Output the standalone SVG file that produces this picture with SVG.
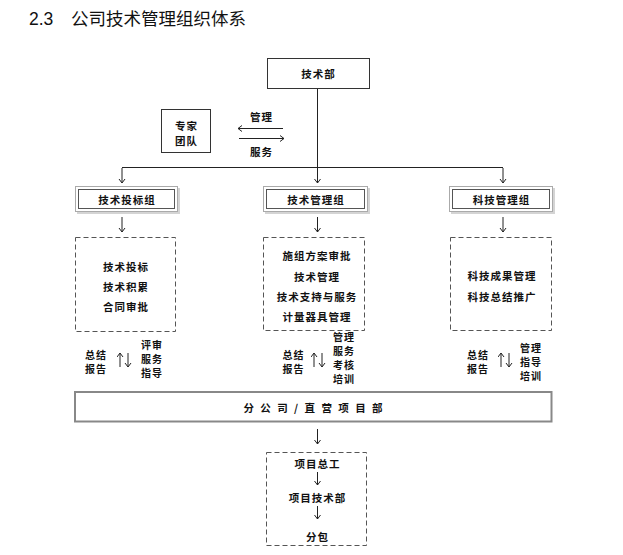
<svg xmlns="http://www.w3.org/2000/svg" width="623" height="555" viewBox="0 0 623 555">
<style>
.t{font-family:"Noto Sans CJK SC","Liberation Sans",sans-serif;font-size:10.5px;font-weight:bold;fill:#111;text-anchor:middle;dominant-baseline:central;letter-spacing:1px}
.s{font-size:10px}
.title{font-family:"Liberation Sans","Noto Sans CJK SC",sans-serif;font-size:17.5px;fill:#111}
.box{fill:#fff;stroke:#333;stroke-width:1}
.dash{fill:#fff;stroke:#555;stroke-width:1;stroke-dasharray:5,3}
.gout{fill:#fff;stroke:#aaa;stroke-width:1}
.gin{fill:none;stroke:#555;stroke-width:1}
.shadow{fill:#d4d4d4}
.big{fill:#fff;stroke:#888;stroke-width:2}
.c{fill:none;stroke:#222;stroke-width:1}
.a{fill:none;stroke:#222;stroke-width:1;marker-end:url(#ah)}
</style>
<defs>
<marker id="ah" markerUnits="userSpaceOnUse" markerWidth="8" markerHeight="8" refX="6" refY="3.5" orient="auto">
<path d="M2,0.5 L6,3.5 L2,6.5" fill="none" stroke="#222" stroke-width="1"/>
</marker>
</defs>
<rect width="623" height="555" fill="#fff"/>
<text class="title" x="29" y="25">2.3</text>
<text class="title" x="71" y="25">公司技术管理组织体系</text>

<g id="jishubu">
<rect class="box" x="267.5" y="58.5" width="102" height="30"/>
<text class="t" x="318.5" y="73.5">技术部</text>
</g>

<g id="zhuanjia">
<rect class="box" x="161.5" y="109.5" width="49" height="43" stroke="#444"/>
<text class="t" x="186.5" y="125">专家</text>
<text class="t" x="186.5" y="140">团队</text>
</g>

<g id="label-guanli">
<text class="t" x="261.5" y="116">管理</text>
</g>
<g id="label-fuwu">
<text class="t" x="261.5" y="151">服务</text>
</g>

<g id="toubiaozu">
<rect class="shadow" x="77" y="188" width="103" height="26"/>
<rect class="gout" x="75.5" y="186.5" width="102" height="25"/>
<rect class="gin" x="78.5" y="189.5" width="96" height="19"/>
<text class="t" x="127" y="199">技术投标组</text>
</g>

<g id="guanlizu">
<rect class="shadow" x="265" y="188" width="105" height="26"/>
<rect class="gout" x="263.5" y="186.5" width="104" height="25"/>
<rect class="gin" x="266.5" y="189.5" width="98" height="19"/>
<text class="t" x="316" y="199">技术管理组</text>
</g>

<g id="kejizu">
<rect class="shadow" x="451" y="188" width="104" height="26"/>
<rect class="gout" x="449.5" y="186.5" width="103" height="25"/>
<rect class="gin" x="452.5" y="189.5" width="97" height="19"/>
<text class="t" x="501.5" y="199">科技管理组</text>
</g>

<g id="toubiao-tasks">
<rect class="dash" x="75.5" y="237.5" width="100" height="94"/>
<text class="t" x="126" y="266">技术投标</text>
<text class="t" x="126" y="286">技术积累</text>
<text class="t" x="126" y="306">合同审批</text>
</g>

<g id="guanli-tasks">
<rect class="dash" x="263.5" y="237.5" width="101" height="93"/>
<text class="t" x="317" y="255">施组方案审批</text>
<text class="t" x="317" y="276">技术管理</text>
<text class="t" x="317" y="296">技术支持与服务</text>
<text class="t" x="317" y="316">计量器具管理</text>
</g>

<g id="keji-tasks">
<rect class="dash" x="450.5" y="237.5" width="101" height="93"/>
<text class="t" x="502" y="275">科技成果管理</text>
<text class="t" x="502" y="296">科技总结推广</text>
</g>

<g id="left-feedback">
<text class="t s" x="96" y="354">总结</text>
<text class="t s" x="96" y="368">报告</text>
<text class="t s" x="152" y="344">评审</text>
<text class="t s" x="152" y="358">服务</text>
<text class="t s" x="152" y="372">指导</text>
</g>

<g id="mid-feedback">
<text class="t s" x="293.5" y="354">总结</text>
<text class="t s" x="293.5" y="368">报告</text>
<text class="t s" x="344" y="336">管理</text>
<text class="t s" x="344" y="350">服务</text>
<text class="t s" x="344" y="364">考核</text>
<text class="t s" x="344" y="378">培训</text>
</g>

<g id="right-feedback">
<text class="t s" x="478" y="354">总结</text>
<text class="t s" x="478" y="368">报告</text>
<text class="t s" x="531" y="347">管理</text>
<text class="t s" x="531" y="361">指导</text>
<text class="t s" x="531" y="375">培训</text>
</g>

<g id="fengongsi">
<rect class="big" x="75" y="392" width="476.5" height="29.5"/>
<text class="t" x="314" y="407" style="letter-spacing:2px">分 公 司 / 直 营 项 目 部</text>
</g>

<g id="xiangmu">
<rect class="dash" x="266.5" y="452.5" width="100" height="93"/>
<text class="t" x="317.5" y="463.5">项目总工</text>
<text class="t" x="317.5" y="497">项目技术部</text>
<text class="t" x="317.5" y="536.5">分包</text>
</g>

<g id="connectors">
<path class="c" d="M317.5,89 V167.5"/>
<path class="c" d="M122,167.5 H503"/>
<path class="a" d="M122,168 V183"/>
<path class="a" d="M317.5,168 V183"/>
<path class="a" d="M503,168 V183"/>
<path class="a" d="M122,217 V232"/>
<path class="a" d="M317.5,217 V232"/>
<path class="a" d="M503,217 V232"/>
<path class="a" d="M283,128.5 H238"/>
<path class="a" d="M239,138.5 H284"/>
<path class="a" d="M120,367 V353"/>
<path class="a" d="M128,353 V367"/>
<path class="a" d="M314,367 V353"/>
<path class="a" d="M322,353 V367"/>
<path class="a" d="M501,367 V353"/>
<path class="a" d="M509,353 V367"/>
<path class="a" d="M317.5,429 V444"/>
<path class="a" d="M317.5,472 V485"/>
<path class="a" d="M317.5,506 V519"/>
</g>
</svg>
